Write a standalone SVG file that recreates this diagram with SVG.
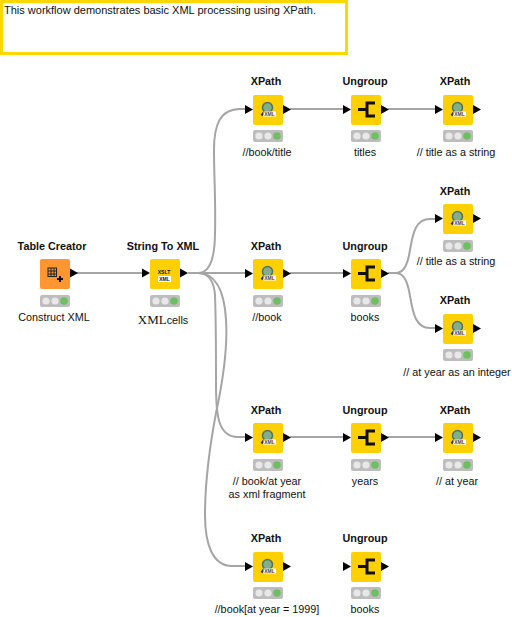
<svg xmlns="http://www.w3.org/2000/svg" xmlns:xlink="http://www.w3.org/1999/xlink" width="512" height="617" viewBox="0 0 512 617">
<style>
text{font-family:"Liberation Sans",Arial,sans-serif;font-size:10.8px;fill:#111;text-anchor:middle}
.t{font-weight:bold;font-size:10.8px}
.c{fill:none;stroke:#a5a5a5;stroke-width:2}
.p{fill:#000}
.b{fill:#ffd000}
</style>
<defs>
<g id="status"><rect x="0" y="0" width="30" height="12" rx="2" fill="#bdbdbd"/><circle cx="6" cy="6" r="3.6" fill="#e8e8e8"/><circle cx="15" cy="6" r="3.6" fill="#e8e8e8"/><circle cx="24" cy="6" r="3.8" fill="#6cc05f"/></g>
<g id="xpath"><rect x="0" y="0" width="30" height="30" rx="2" class="b"/><path d="M-8 10l8 4.500-8 4.500zM30 10l8 4.500-8 4.500z" class="p"/><path d="M12 16l-3.500 4.500" stroke="#333" stroke-width="2.200"/><circle cx="14.500" cy="12.500" r="5" fill="#7fb08a" stroke="#55705c" stroke-width="1.500"/><rect x="10.500" y="16.500" width="12.500" height="5" fill="#fff"/><text x="16.500" y="21" style="font-size:5px;font-weight:bold;fill:#444">XML</text></g>
<g id="ungroup"><rect x="0" y="0" width="30" height="30" rx="2" class="b"/><path d="M-8 10l8 4.500-8 4.500zM30 10l8 4.500-8 4.500z" class="p"/><path d="M7 14.500h9M24 8h-8v13h8" fill="none" stroke="#111" stroke-width="3"/></g>
</defs>
<rect x="1.500" y="1.500" width="345" height="52" fill="#fff" stroke="#ffd800" stroke-width="3"/>
<text x="4" y="14" style="text-anchor:start;font-size:11px">This workflow demonstrates basic XML processing using XPath.</text>
<g id="connectors">
<path class="c" d="M76 273H142"/>
<path class="c" d="M188 273H198C208 273 213 262 214.500 245C216.500 215 214 180 214 150C214 125 220 109 240 109H246"/>
<path class="c" d="M188 273H246"/>
<path class="c" d="M188 273H198C208 273 214 281 215 295C216 320 216 350 216 385C216 415 218 437 238 437H246"/>
<path class="c" d="M188 273H198C212 273 224 285 226 320C228 350 222 385 216 413C210 445 205 480 205 515C205 545 213 566 232 566H246"/>
<path class="c" d="M290 109H344"/><path class="c" d="M290 273H344"/><path class="c" d="M290 437H344"/>
<path class="c" d="M388 109H436"/><path class="c" d="M388 437H436"/>
<path class="c" d="M388 273H396C405 273 408 262 410 250C413 232 416 219 430 219H436"/>
<path class="c" d="M388 273H396C405 273 408 284 410 296C413 314 416 328 430 328H436"/>
</g>
<g id="table-creator"><text class="t" x="52" y="250">Table Creator</text><rect x="40" y="259" width="30" height="30" rx="2" fill="#ff9632"/><path d="M70 268.500l8 4.500-8 4.500z" class="p"/><g fill="none" stroke="#222" stroke-width="1"><rect x="48" y="268" width="8.500" height="8.500"/><path d="M51 268v8.500M54 268v8.500M48 271h8.500M48 274h8.500"/></g><path d="M57 279h6M60 276v6" stroke="#111" stroke-width="2"/><use xlink:href="#status" x="40" y="295"/><text x="54" y="321">Construct XML</text></g>
<g id="string-to-xml"><text class="t" x="163" y="250">String To XML</text><rect x="150" y="259" width="30" height="30" rx="2" class="b"/><path d="M142 268.500l8 4.500-8 4.500zM180 268.500l8 4.500-8 4.500z" class="p"/><text x="164" y="274" style="font-size:5px;font-weight:bold">XSLT</text><rect x="158" y="276" width="13" height="6" fill="#fff"/><text x="164.500" y="281" style="font-size:5px;font-weight:bold">XML</text><use xlink:href="#status" x="150" y="295"/><text x="163" y="324"><tspan style="font-family:'Liberation Serif',serif;font-size:13px">XML</tspan><tspan>cells</tspan></text></g>
<g id="xpath1"><text class="t" x="266" y="85">XPath</text><use xlink:href="#xpath" x="253" y="95"/><use xlink:href="#status" x="253" y="130"/><text x="267" y="156">//book/title</text></g>
<g id="ungroup1"><text class="t" x="365" y="85">Ungroup</text><use xlink:href="#ungroup" x="351" y="95"/><use xlink:href="#status" x="351" y="130"/><text x="365" y="156">titles</text></g>
<g id="xpath2"><text class="t" x="455" y="85">XPath</text><use xlink:href="#xpath" x="443" y="95"/><use xlink:href="#status" x="443" y="130"/><text x="456" y="156">// title as a string</text></g>
<g id="xpath3"><text class="t" x="455" y="195">XPath</text><use xlink:href="#xpath" x="443" y="204"/><use xlink:href="#status" x="443" y="240"/><text x="456" y="265">// title as a string</text></g>
<g id="xpath4"><text class="t" x="266" y="250">XPath</text><use xlink:href="#xpath" x="253" y="259"/><use xlink:href="#status" x="253" y="295"/><text x="267" y="321">//book</text></g>
<g id="ungroup2"><text class="t" x="365" y="250">Ungroup</text><use xlink:href="#ungroup" x="351" y="259"/><use xlink:href="#status" x="351" y="295"/><text x="365" y="321">books</text></g>
<g id="xpath5"><text class="t" x="455" y="304">XPath</text><use xlink:href="#xpath" x="443" y="314"/><use xlink:href="#status" x="443" y="349"/><text x="457" y="376">// at year as an integer</text></g>
<g id="xpath6"><text class="t" x="266" y="414">XPath</text><use xlink:href="#xpath" x="253" y="423"/><use xlink:href="#status" x="253" y="459"/><text x="267" y="485">// book/at year</text><text x="267" y="498">as xml fragment</text></g>
<g id="ungroup3"><text class="t" x="365" y="414">Ungroup</text><use xlink:href="#ungroup" x="351" y="423"/><use xlink:href="#status" x="351" y="459"/><text x="365" y="485">years</text></g>
<g id="xpath7"><text class="t" x="455" y="414">XPath</text><use xlink:href="#xpath" x="443" y="423"/><use xlink:href="#status" x="443" y="459"/><text x="457" y="485">// at year</text></g>
<g id="xpath8"><text class="t" x="266" y="542">XPath</text><use xlink:href="#xpath" x="253" y="552"/><use xlink:href="#status" x="253" y="587"/><text x="267" y="613">//book[at year = 1999]</text></g>
<g id="ungroup4"><text class="t" x="365" y="542">Ungroup</text><use xlink:href="#ungroup" x="351" y="552"/><use xlink:href="#status" x="351" y="587"/><text x="365" y="613">books</text></g>
</svg>
